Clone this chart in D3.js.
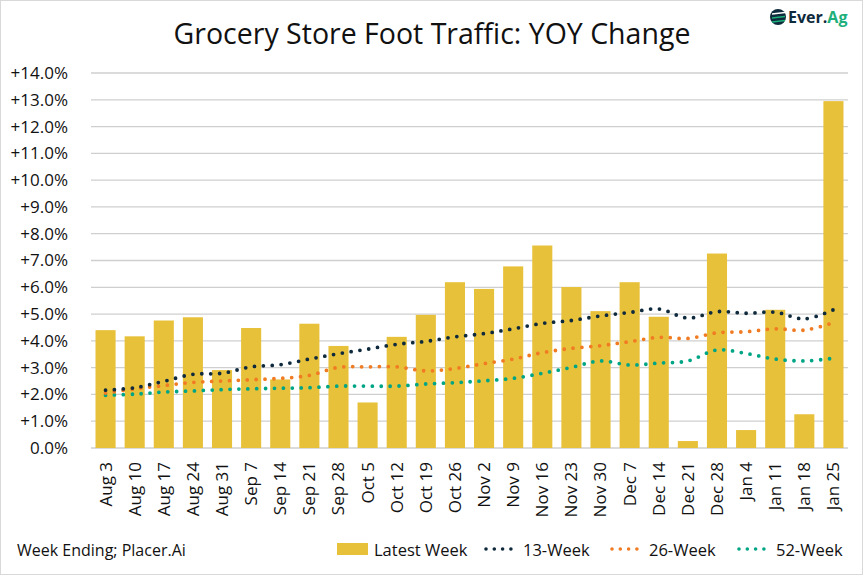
<!DOCTYPE html>
<html>
<head>
<meta charset="utf-8">
<script src="https://cdn.jsdelivr.net/npm/d3@7"></script>
<style>
	body { margin: 0; background: #fff; }
	text { font-family: "Open Sans", "Noto Sans", sans-serif; fill: #111; }
</style>
</head>
<body>
<div id="chart"></div>
<script>

const weeks = ['Aug 3', 'Aug 10', 'Aug 17', 'Aug 24', 'Aug 31', 'Sep 7', 'Sep 14', 'Sep 21', 'Sep 28',
	'Oct 5', 'Oct 12', 'Oct 19', 'Oct 26', 'Nov 2', 'Nov 9', 'Nov 16', 'Nov 23', 'Nov 30',
	'Dec 7', 'Dec 14', 'Dec 21', 'Dec 28', 'Jan 4', 'Jan 11', 'Jan 18', 'Jan 25'];

const latestWeek = [4.40, 4.17, 4.76, 4.88, 2.91, 4.48, 2.56, 4.64, 3.81,
	1.70, 4.15, 4.97, 6.19, 5.94, 6.78, 7.56, 6.01, 5.11,
	6.19, 4.90, 0.26, 7.26, 0.67, 5.16, 1.26, 12.95];

const week13 = [2.16, 2.25, 2.49, 2.75, 2.79, 3.03, 3.11, 3.32, 3.52,
	3.69, 3.87, 3.98, 4.15, 4.27, 4.45, 4.65, 4.76, 4.93,
	5.06, 5.19, 4.85, 5.09, 5.03, 5.07, 4.82, 5.16];

const week26 = [2.05, 2.21, 2.33, 2.45, 2.50, 2.55, 2.60, 2.71, 3.01,
	3.03, 3.03, 2.88, 2.97, 3.15, 3.32, 3.56, 3.72, 3.82,
	3.97, 4.13, 4.09, 4.30, 4.34, 4.45, 4.40, 4.68];

const week52 = [1.97, 2.01, 2.09, 2.13, 2.18, 2.21, 2.23, 2.25, 2.31,
	2.31, 2.31, 2.39, 2.44, 2.51, 2.60, 2.79, 3.01, 3.25,
	3.10, 3.17, 3.25, 3.66, 3.53, 3.32, 3.25, 3.35];

const yTicks = d3.range(0, 15, 1);

class FootTrafficChart {

	constructor(element) {
		this.element = element;
		this.width = 864;
		this.height = 576;
		this.plot = { left: 91, right: 848, top: 73, bottom: 448 };
		this.draw();
	}

	draw() {
		this.createSVG();
		this.createScales();
		this.createGrid();
		this.createBars();
		this.createLines();
		this.createAxes();
		this.createLegend();
		this.createTitle();
	}

	createSVG() {
		this.svg = d3.select(this.element)
			.append('svg')
				.attr('width', this.width)
				.attr('height', this.height);

		// cadre gris autour du graphique
		this.svg.append('rect')
			.attr('x', 0.5).attr('y', 0.5)
			.attr('width', this.width - 2).attr('height', this.height - 2)
			.attr('fill', '#fff')
			.attr('stroke', '#d9d9d9');
	}

	createScales() {
		this.xScale = d3.scaleBand()
			.domain(weeks)
			.range([this.plot.left, this.plot.right])
			.paddingInner(0.31)
			.paddingOuter(0.155);

		this.yScale = d3.scaleLinear()
			.domain([0, 14])
			.range([this.plot.bottom, this.plot.top]);
	}

	createGrid() {
		this.svg.append('g')
			.selectAll('line')
			.data(yTicks).enter()
			.append('line')
				.attr('x1', this.plot.left)
				.attr('x2', this.plot.right)
				.attr('y1', d => this.yScale(d))
				.attr('y2', d => this.yScale(d))
				.attr('stroke', '#cfcfcf')
				.attr('stroke-width', 1.3);
	}

	createBars() {
		this.svg.append('g')
			.selectAll('rect')
			.data(latestWeek).enter()
			.append('rect')
				.attr('x', (d, i) => this.xScale(weeks[i]))
				.attr('width', this.xScale.bandwidth())
				.attr('y', d => this.yScale(d))
				.attr('height', d => this.yScale(0) - this.yScale(d))
				.attr('fill', '#E8C13A');
	}

	createLines() {
		const cx = i => this.xScale(weeks[i]) + this.xScale.bandwidth() / 2;
		const line = d3.line()
			.x((d, i) => cx(i))
			.y(d => this.yScale(d))
			.curve(d3.curveCatmullRom.alpha(0.5));

		const series = [
			{ values: week52, color: '#00A585' },
			{ values: week26, color: '#F07B22' },
			{ values: week13, color: '#0E2A3C' }
		];

		this.svg.append('g')
			.selectAll('path')
			.data(series).enter()
			.append('path')
				.attr('d', d => line(d.values))
				.attr('fill', 'none')
				.attr('stroke', d => d.color)
				.attr('stroke-width', 3.8)
				.attr('stroke-linecap', 'round')
				.attr('stroke-dasharray', '0 8.9');
	}

	createAxes() {
		const yAxis = d3.axisLeft(this.yScale)
			.tickValues(yTicks)
			.tickSize(0)
			.tickPadding(0)
			.tickFormat(d => (d > 0 ? '+' : '') + d3.format('.1f')(d) + '%');

		this.svg.append('g')
			.attr('transform', 'translate(68, 0)')
			.call(yAxis)
			.call(g => g.select('.domain').remove())
			.selectAll('text')
				.style('font-size', '17px')
				.attr('fill', '#111');

		const xAxis = d3.axisBottom(this.xScale)
			.tickSize(0)
			.tickPadding(0);

		this.svg.append('g')
			.attr('transform', `translate(0, ${this.plot.bottom})`)
			.call(xAxis)
			.call(g => g.select('.domain').remove())
			.selectAll('text')
				.style('font-size', '17px')
				.attr('fill', '#111')
				.attr('text-anchor', 'end')
				.attr('dy', '0.35em')
				.attr('transform', 'translate(0, 14) rotate(-90)');
	}

	createLegend() {
		this.svg.append('text')
			.attr('x', 17)
			.attr('y', 556)
			.style('font-size', '16px')
			.text('Week Ending; Placer.Ai');

		const legend = this.svg.append('g');

		legend.append('rect')
			.attr('x', 337).attr('y', 543)
			.attr('width', 31).attr('height', 12)
			.attr('fill', '#E8C13A');
		legend.append('text')
			.attr('x', 374).attr('y', 556)
			.style('font-size', '16.5px')
			.text('Latest Week');

		const items = [
			{ label: '13-Week', color: '#0E2A3C', x: 486 },
			{ label: '26-Week', color: '#F07B22', x: 612 },
			{ label: '52-Week', color: '#00A585', x: 739 }
		];

		const g = legend.selectAll('g.item')
			.data(items).enter()
			.append('g')
				.attr('class', 'item')
				.attr('transform', d => `translate(${d.x}, 549)`);

		g.append('line')
			.attr('x1', 0).attr('x2', 28)
			.attr('stroke', d => d.color)
			.attr('stroke-width', 3.6)
			.attr('stroke-linecap', 'round')
			.attr('stroke-dasharray', '0 8.3');

		g.append('text')
			.attr('x', 37).attr('y', 7)
			.style('font-size', '16.5px')
			.text(d => d.label);
	}

	createTitle() {
		this.svg.append('text')
			.attr('x', 432)
			.attr('y', 44)
			.attr('text-anchor', 'middle')
			.style('font-size', '28.5px')
			.text('Grocery Store Foot Traffic: YOY Change');

		// logo Ever.Ag
		const logo = this.svg.append('g').attr('transform', 'translate(778, 17)');
		logo.append('circle')
			.attr('r', 8)
			.attr('fill', '#0E2A3C');
		[-3, 1, 5].forEach(dy => {
			logo.append('line')
				.attr('x1', -6).attr('x2', 7)
				.attr('y1', dy).attr('y2', dy - 1.5)
				.attr('stroke', dy > 0 ? '#1DB07A' : '#fff')
				.attr('stroke-width', 1.6);
		});
		const t = logo.append('text')
			.attr('x', 10).attr('y', 6)
			.style('font-size', '16px')
			.style('font-weight', 'bold');
		t.append('tspan').attr('fill', '#0E2A3C').text('Ever.');
		t.append('tspan').attr('fill', '#1DB07A').text('Ag');
	}

}

new FootTrafficChart('#chart');

</script>
</body>
</html>
